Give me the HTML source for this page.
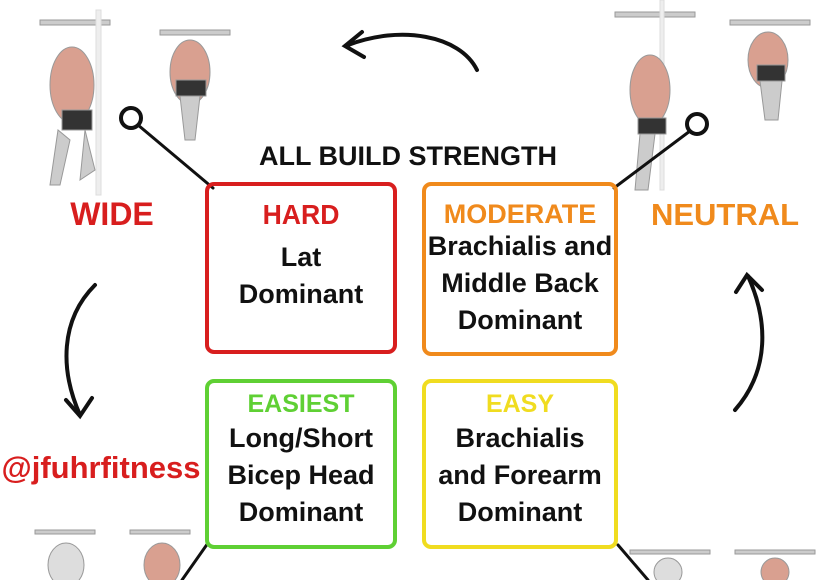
<!DOCTYPE html>
<html><head><style>
body{margin:0;width:818px;height:580px;background:#fff;overflow:hidden;position:relative;font-family:"Liberation Sans",sans-serif;font-weight:bold}
.t{position:absolute;white-space:nowrap;text-align:center;transform-origin:center}
.box{position:absolute;border:4px solid;border-radius:9px;box-sizing:border-box}
</style></head><body>
<svg width="818" height="580" style="position:absolute;left:0;top:0">
<g fill="#ccc" stroke="#999" stroke-width="1">
<rect x="40" y="20" width="70" height="5"/><rect x="96" y="10" width="5" height="185" fill="#eee" stroke="#ddd"/>
<ellipse cx="72" cy="85" rx="22" ry="38" fill="#d9a090"/><rect x="62" y="110" width="30" height="20" fill="#333"/>
<path d="M58 130 L50 185 L60 185 L70 140Z M85 130 L95 170 L80 180Z"/>
<rect x="160" y="30" width="70" height="5"/><ellipse cx="190" cy="72" rx="20" ry="32" fill="#d9a090"/><rect x="176" y="80" width="30" height="16" fill="#333"/>
<path d="M180 96 L185 140 L195 140 L200 96Z"/>
<rect x="615" y="12" width="80" height="5"/><rect x="660" y="0" width="4" height="190" fill="#eee" stroke="#ddd"/>
<ellipse cx="650" cy="90" rx="20" ry="35" fill="#d9a090"/><rect x="638" y="118" width="28" height="16" fill="#333"/>
<path d="M640 134 L635 190 L648 190 L655 134Z"/>
<rect x="730" y="20" width="80" height="5"/><ellipse cx="768" cy="60" rx="20" ry="28" fill="#d9a090"/><rect x="757" y="65" width="28" height="16" fill="#333"/>
<path d="M760 81 L765 120 L778 120 L782 81Z"/>
<rect x="35" y="530" width="60" height="4"/><ellipse cx="66" cy="565" rx="18" ry="22" fill="#ddd"/>
<rect x="130" y="530" width="60" height="4"/><ellipse cx="162" cy="565" rx="18" ry="22" fill="#d9a090"/>
<rect x="630" y="550" width="80" height="4"/><ellipse cx="668" cy="572" rx="14" ry="14" fill="#ddd"/>
<rect x="735" y="550" width="80" height="4"/><ellipse cx="775" cy="572" rx="14" ry="14" fill="#d9a090"/>
</g>
<g stroke="#111" stroke-width="4" fill="none" stroke-linecap="round">
<path d="M477 70 C460 35 400 25 348 45"/><path d="M362 32 L345 46 L364 57"/>
<path d="M95 285 C60 320 60 370 80 415"/><path d="M66 400 L80 416 L92 398"/>
<path d="M735 410 C770 370 768 320 748 276"/><path d="M736 292 L747 275 L762 290"/>
<line x1="138" y1="125" x2="213" y2="188" stroke-width="3"/>
<line x1="690" y1="131" x2="614" y2="188" stroke-width="3"/>
<line x1="208" y1="543" x2="182" y2="580" stroke-width="3"/>
<line x1="618" y1="545" x2="648" y2="580" stroke-width="3"/>
<circle cx="131" cy="118" r="10" fill="#fff" stroke-width="4"/>
<circle cx="697" cy="124" r="10" fill="#fff" stroke-width="4"/>
</g>
</svg>
<div class="t" style="left:208px;top:141px;width:400px;font-size:27px;color:#111">ALL BUILD STRENGTH</div>
<div class="t" style="left:37px;top:196px;width:150px;font-size:32px;color:#d81e1e">WIDE</div>
<div class="t" style="left:635px;top:197px;width:180px;font-size:31px;color:#f08a1c">NEUTRAL</div>
<div class="t" style="left:-10px;top:450px;width:222px;font-size:31px;color:#d81e1e">@jfuhrfitness</div>
<div class="box" style="left:205px;top:182px;width:192px;height:172px;border-color:#d81e1e"></div>
<div class="box" style="left:422px;top:182px;width:196px;height:174px;border-color:#f08a1c"></div>
<div class="box" style="left:205px;top:379px;width:192px;height:170px;border-color:#5fd034"></div>
<div class="box" style="left:422px;top:379px;width:196px;height:170px;border-color:#f0dc20"></div>
<div class="t" style="left:205px;top:199px;width:192px;font-size:28px;color:#d81e1e;transform:scaleX(0.95)">HARD</div>
<div class="t" style="left:185px;top:239px;width:232px;font-size:27px;color:#111;line-height:37px">Lat<br>Dominant</div>
<div class="t" style="left:402px;top:199px;width:236px;font-size:27px;color:#f08a1c">MODERATE</div>
<div class="t" style="left:402px;top:228px;width:236px;font-size:27px;color:#111;line-height:37px">Brachialis and<br>Middle Back<br>Dominant</div>
<div class="t" style="left:185px;top:390px;width:232px;font-size:25px;color:#5fd034">EASIEST</div>
<div class="t" style="left:185px;top:420px;width:232px;font-size:27px;color:#111;line-height:37px">Long/Short<br>Bicep Head<br>Dominant</div>
<div class="t" style="left:402px;top:390px;width:236px;font-size:25px;color:#f0dc20">EASY</div>
<div class="t" style="left:402px;top:420px;width:236px;font-size:27px;color:#111;line-height:37px">Brachialis<br>and Forearm<br>Dominant</div>
</body></html>
